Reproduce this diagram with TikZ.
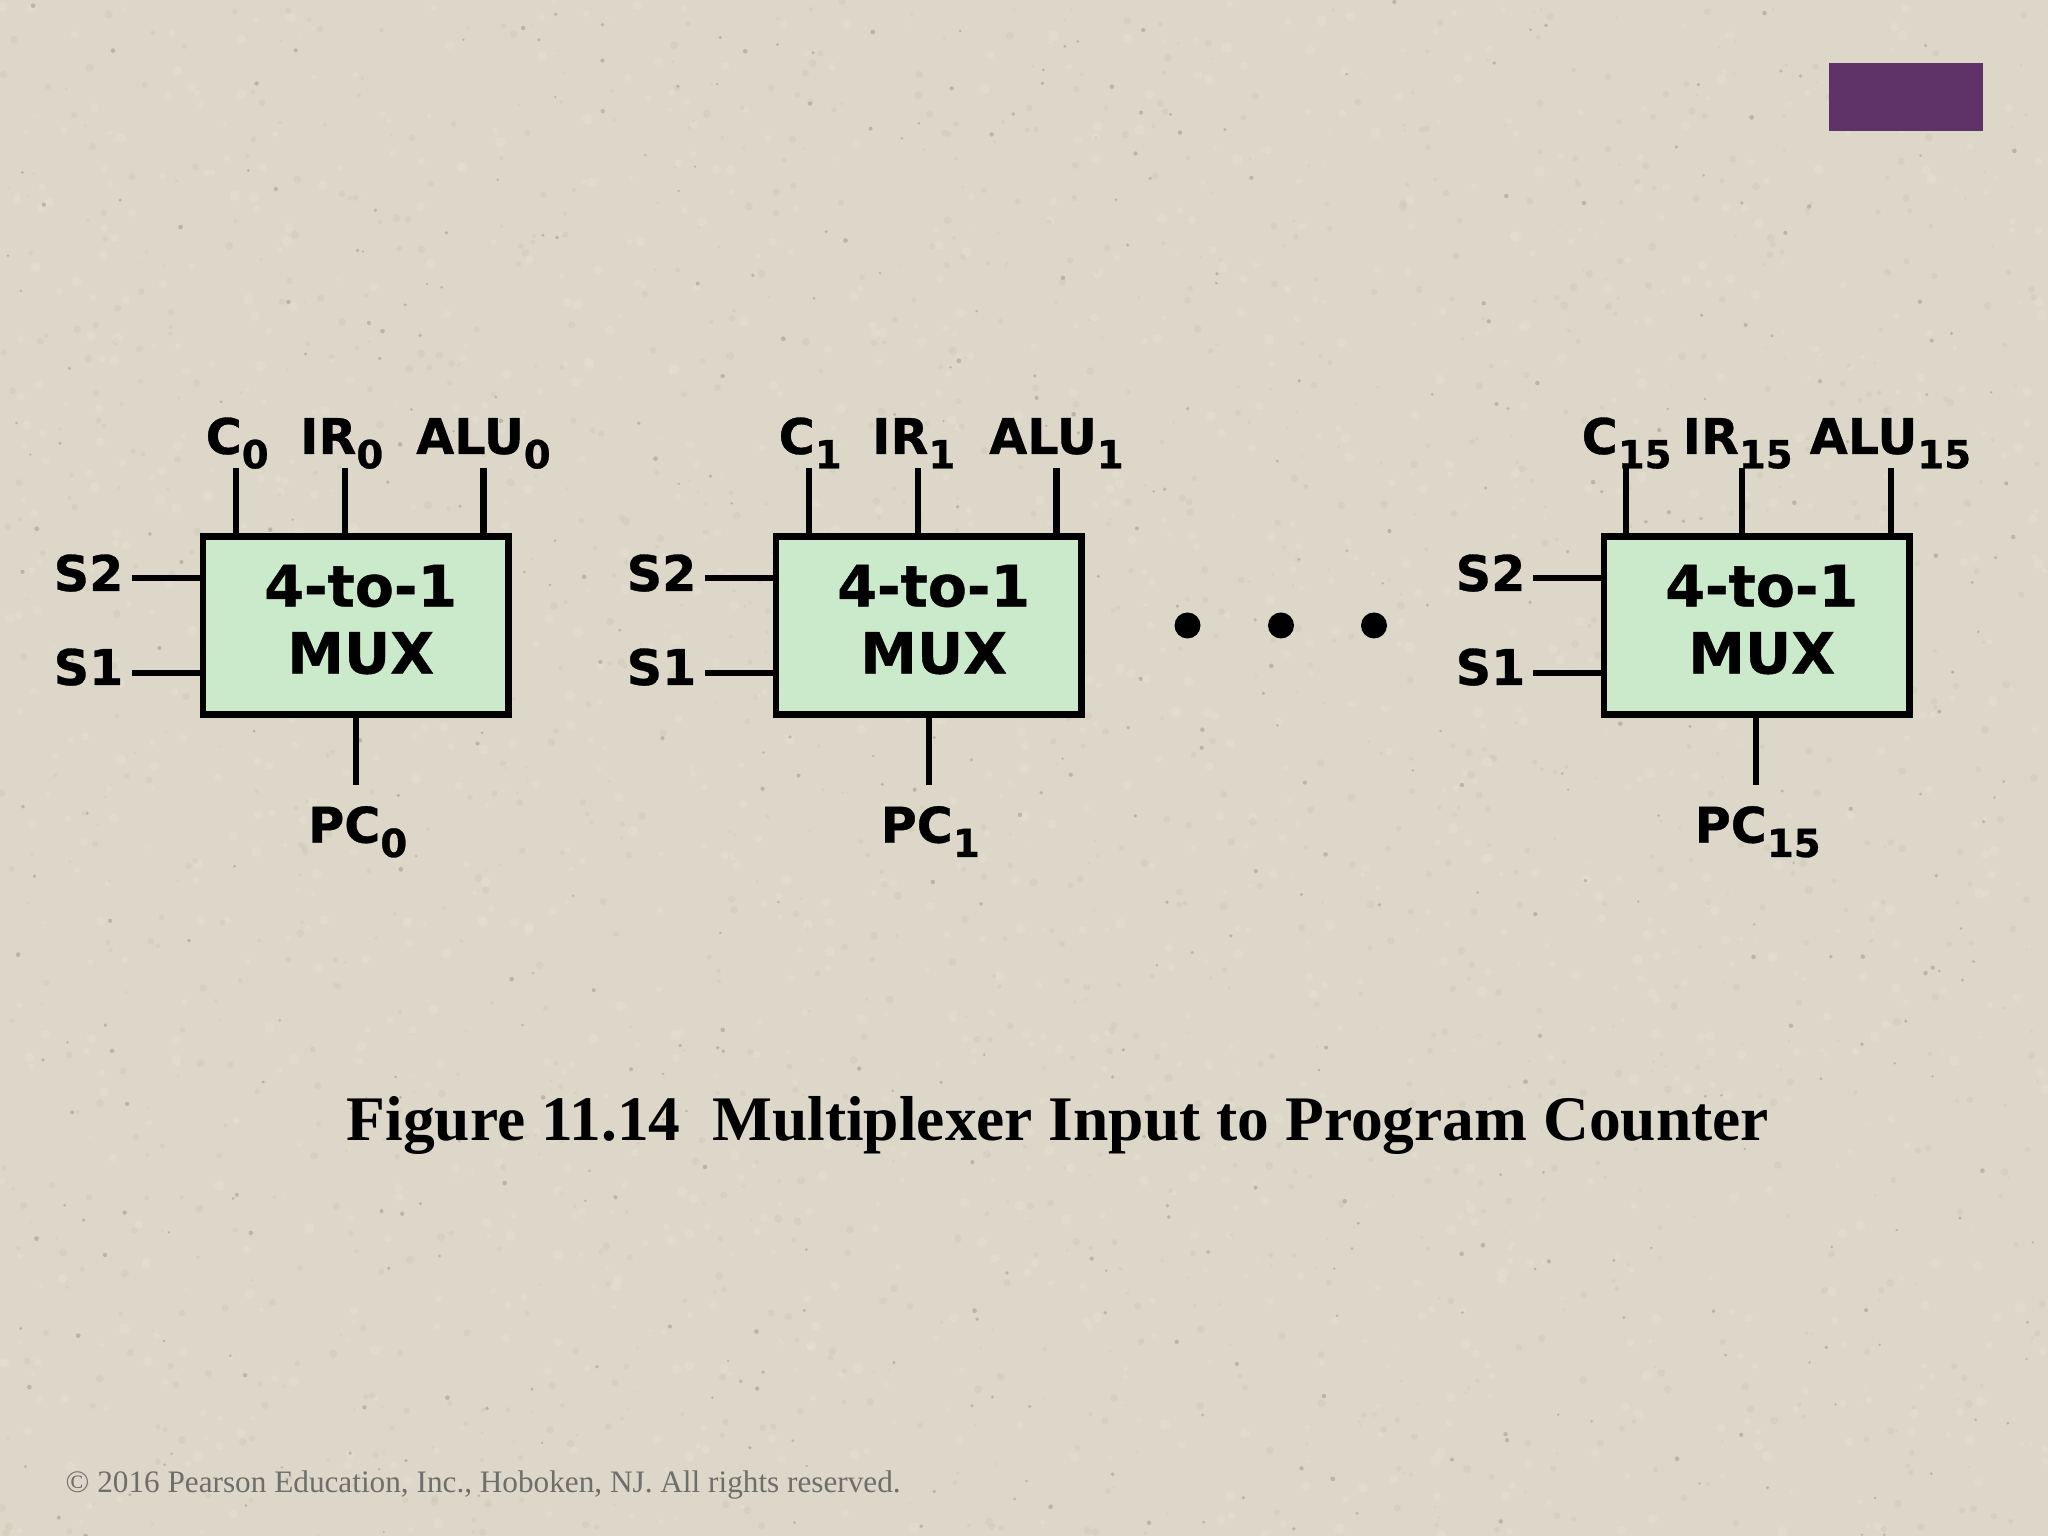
\documentclass[tikz,border=0pt]{standalone}
\usepackage{fontspec}
\setmainfont{Liberation Serif}
\newfontfamily\muxfont[FakeBold=0.7]{DejaVu Sans Bold}
\definecolor{paper}{HTML}{DCD7C8}
\definecolor{speck}{HTML}{9F9B8B}
\definecolor{blotchlight}{HTML}{E8E3D9}
\definecolor{blotchdark}{HTML}{C8C3B0}
\definecolor{muxgreen}{HTML}{CBE9CB}
\definecolor{tabpurple}{HTML}{5F3268}
\definecolor{footgray}{HTML}{6E6E6A}
\newcommand{\sig}[2]{#1\raisebox{-4.07pt}{\fontsize{11}{11}\selectfont #2}}
\tikzset{
    muxbox/.style={draw=black,fill=muxgreen,line width=1.9pt,minimum width=3.055cm,minimum height=1.777cm,inner sep=0pt,outer sep=0pt},
    muxtext/.style={font=\muxfont\fontsize{16.2}{19.1}\selectfont,align=center,inner sep=0pt},
    siglabel/.style={font=\muxfont\fontsize{14}{16}\selectfont,anchor=base west,inner sep=0pt},
    stub/.style={line width=1.8pt},
}
\begin{document}
\begin{tikzpicture}
    \useasboundingbox (0,0) rectangle (20.48,15.36);
    \fill [paper] (0,0) rectangle (20.48,15.36);
    % paper grain
    \pgfmathsetseed{11}
    \foreach \i in {1,...,1500} {
        \fill [blotchlight,opacity=0.35] (20.48*rnd,15.36*rnd) circle (0.015+0.04*rnd);
        \fill [blotchdark,opacity=0.3] (20.48*rnd,15.36*rnd) circle (0.012+0.03*rnd);
    }
    \foreach \i in {1,...,500}
        \fill [speck,opacity=0.55] (20.48*rnd,15.36*rnd) circle (0.012+0.012*rnd);
    \fill [tabpurple] (18.29,14.05) rectangle (19.83,14.73);

    % the three multiplexers: index, box left edge, stubs and label positions
    \foreach \n/\bx/\cx/\ix/\ax/\px/\cl/\il/\al/\pl/\sl in {
        0/2.03/2.36/3.45/4.835/3.557/2.05/2.995/4.155/3.075/0.53,
        1/7.76/8.09/9.18/10.565/9.287/7.78/8.715/9.885/8.80/6.26,
        15/16.04/16.257/17.42/18.91/17.56/15.81/16.82/18.09/16.94/14.55} {
        \node [muxbox,anchor=north west] (mux\n) at (\bx,9.992) {};
        \node [muxtext] (muxtext\n) at ([xshift=0.05cm,yshift=0.06cm]mux\n.center) {4-to-1\\MUX};
        % top inputs
        \coordinate (c\n) at (\cx,10.68);
        \coordinate (ir\n) at (\ix,10.68);
        \coordinate (alu\n) at (\ax,10.68);
        \draw [stub] (c\n) -- (c\n |- mux\n.north);
        \draw [stub] (ir\n) -- (ir\n |- mux\n.north);
        \draw [stub] (alu\n) -- (alu\n |- mux\n.north);
        \node [siglabel] (clab\n) at (\cl,10.82) {\sig{C}{\n}};
        \node [siglabel] (irlab\n) at (\il,10.82) {\sig{IR}{\n}};
        \node [siglabel] (alulab\n) at (\al,10.82) {\sig{ALU}{\n}};
        % select lines
        \coordinate (stwo\n) at (\bx-0.71,9.58);
        \coordinate (sone\n) at (\bx-0.71,8.633);
        \draw [stub] (stwo\n) -- (stwo\n -| mux\n.west);
        \draw [stub] (sone\n) -- (sone\n -| mux\n.west);
        \node [siglabel] (stwolab\n) at (\sl,9.45) {S2};
        \node [siglabel] (sonelab\n) at (\sl,8.51) {S1};
        % output
        \coordinate (pc\n) at (\px,7.51);
        \draw [stub] (pc\n) -- (pc\n |- mux\n.south);
        \node [siglabel] (pclab\n) at (\pl,6.933) {\sig{PC}{\n}};
    }

    \fill [black] (11.875,9.105) circle (0.13) (12.81,9.105) circle (0.13) (13.74,9.105) circle (0.13);

    \node [anchor=base west,inner sep=0pt,font=\bfseries\fontsize{18.06}{20}\selectfont] (caption) at (3.46,3.95)
        {Figure 11.14~~Multiplexer Input to Program Counter};
    \node [anchor=base west,inner sep=0pt,text=footgray,font=\fontsize{8.89}{11}\selectfont] (footer) at (0.65,0.43)
        {© 2016 Pearson Education, Inc., Hoboken, NJ. All rights reserved.};
\end{tikzpicture}
\end{document}
